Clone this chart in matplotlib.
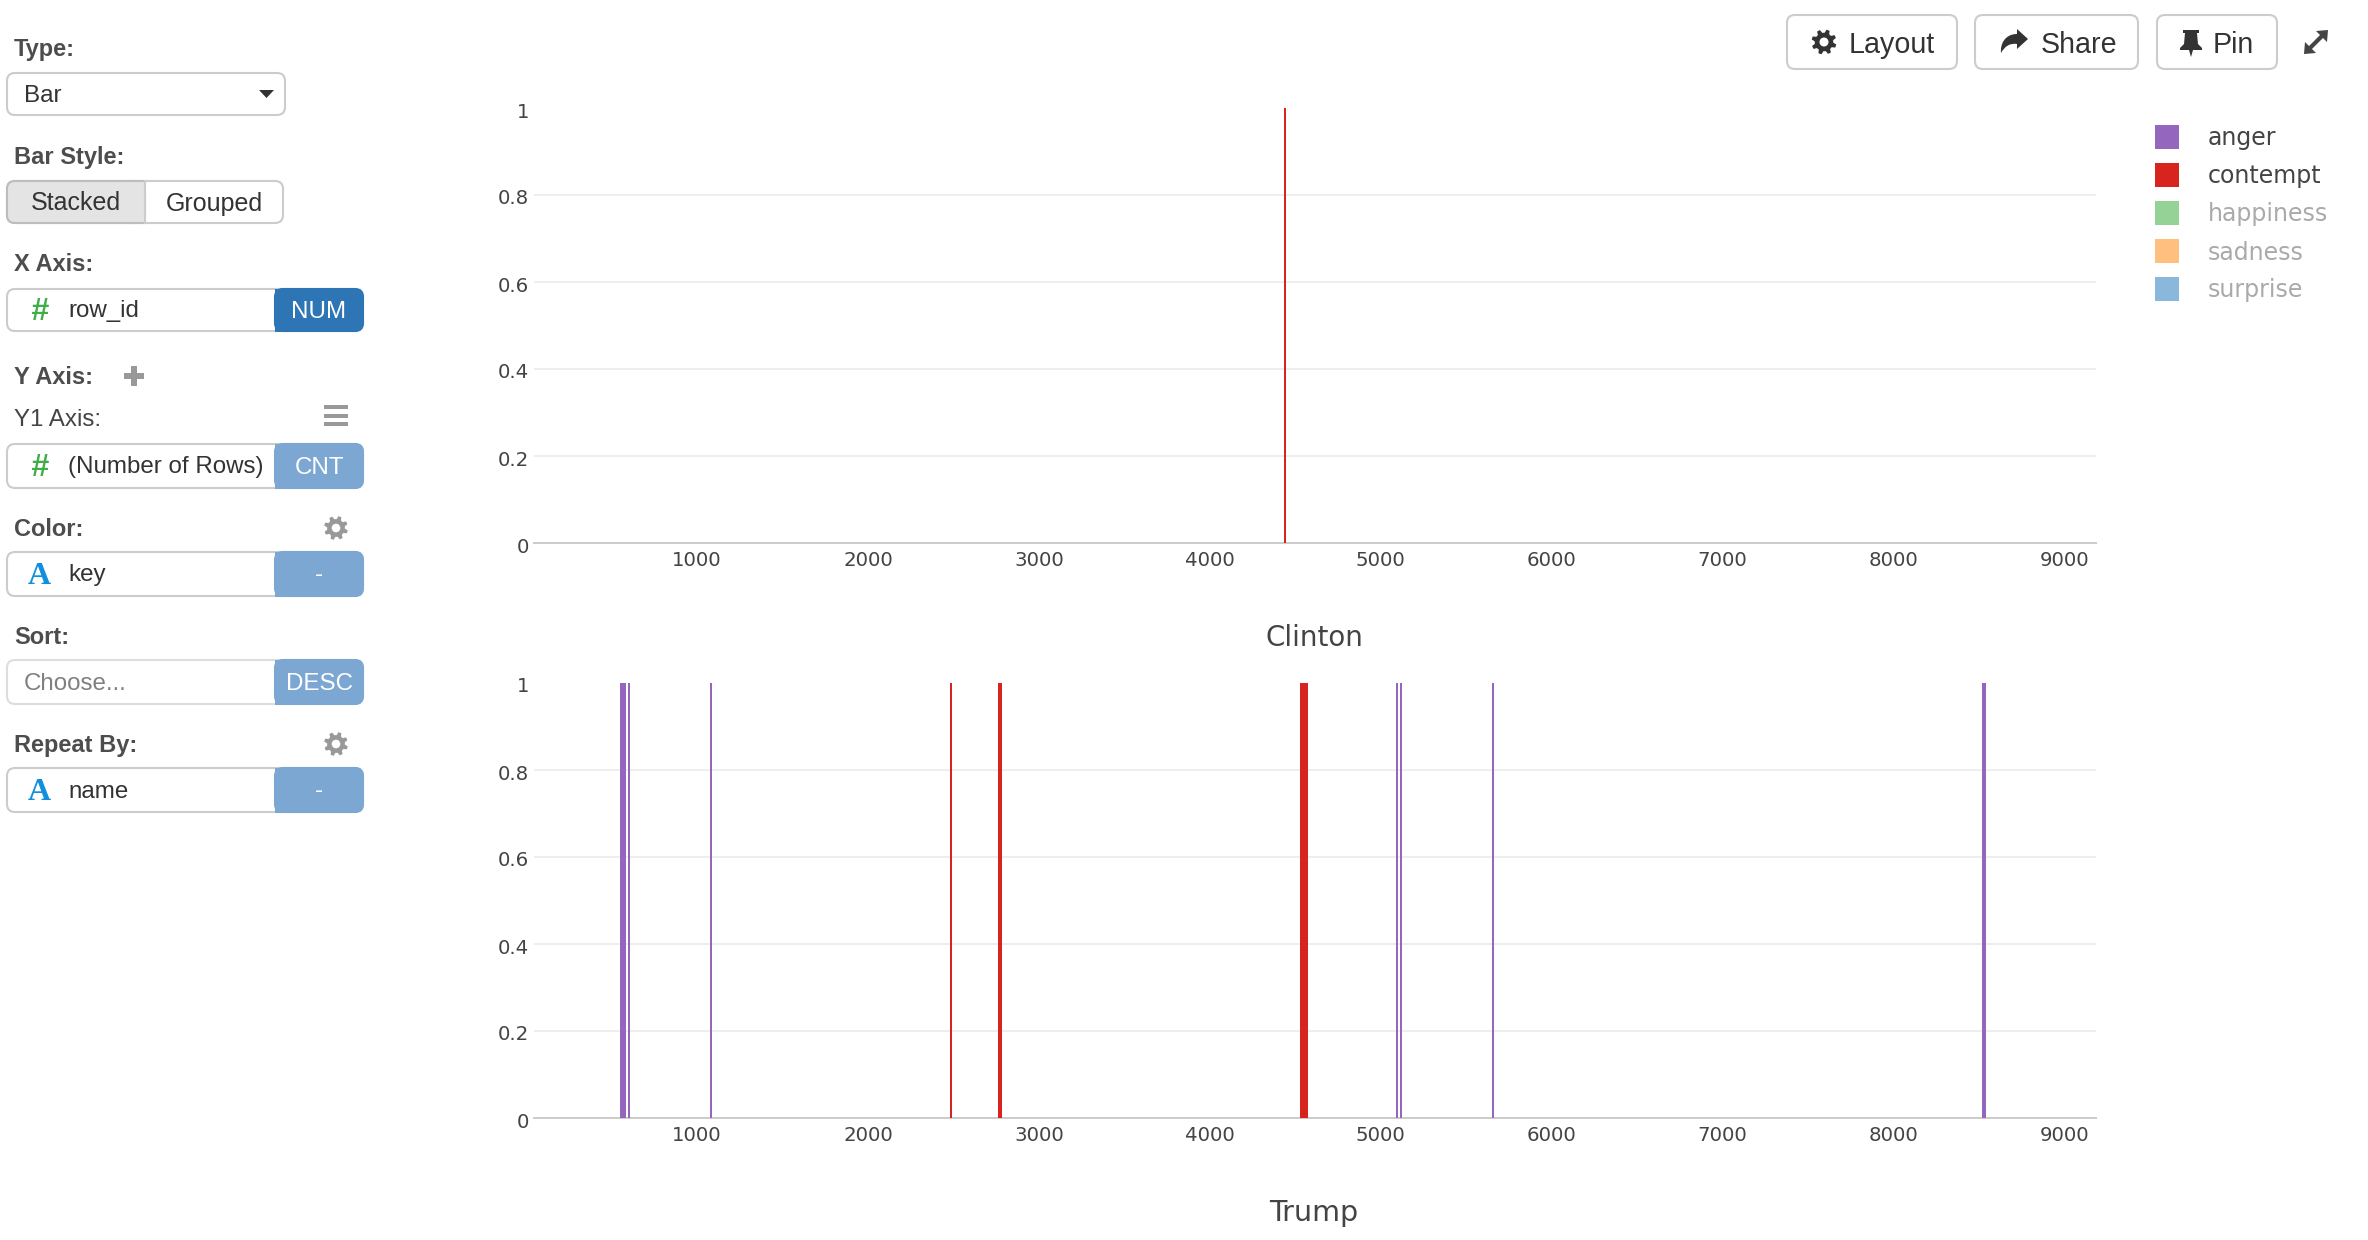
import numpy as np
import matplotlib
matplotlib.use("Agg")
import matplotlib.pyplot as plt
from matplotlib.patches import FancyBboxPatch, Rectangle, Polygon, Circle, PathPatch
from matplotlib.path import Path
from matplotlib.transforms import ScaledTranslation

# row ids of the single-row bars
clinton_contempt = [4441]
trump_anger = [555, 567, 579, 602, 1082, 5096, 5120, 5658, 8525, 8537]
trump_contempt = [2486, 2767, 2779, 4535, 4547, 4558, 4570]

legend_names = ["anger", "contempt", "happiness", "sadness", "surprise"]
legend_colors = ["#9566be", "#d8241f", "#94d295", "#ffbf7f", "#8ab7dc"]
legend_text = ["#444444", "#444444", "#aaaaaa", "#aaaaaa", "#aaaaaa"]

x_ticks = [1000, 2000, 3000, 4000, 5000, 6000, 7000, 8000, 9000]
y_ticks = [0, 0.2, 0.4, 0.6, 0.8, 1]
y_labels = ["0", "0.2", "0.4", "0.6", "0.8", "1"]

W, H = 2368, 1240
ANGER, CONTEMPT = legend_colors[0], legend_colors[1]
TICK = "#444444"
SANS = "Liberation Sans"

fig = plt.figure(figsize=(W / 100, H / 100), dpi=100, facecolor="white")


def make_axes(top, bottom, bars):
    left, right = 534, 2096
    ax = fig.add_axes([left / W, 1 - bottom / H, (right - left) / W, (bottom - top) / H])
    for xs, col in bars:
        ax.bar(xs, np.ones(len(xs)), width=11.7, color=col, linewidth=0, zorder=3)
    ax.set_xlim(46, 9186)
    ax.set_ylim(0, 1)
    ax.set_xticks(x_ticks)
    ax.set_yticks(y_ticks)
    ax.set_yticklabels(y_labels)
    ax.tick_params(length=0, labelsize=14.2, labelcolor=TICK, pad=3.5)
    ax.tick_params(axis="x", pad=6)
    ax.grid(axis="y", color="#eeeeee", linewidth=1.44, zorder=0)
    ax.set_axisbelow(True)
    ax.get_ygridlines()[-1].set_visible(False)
    for s in ["top", "left", "right"]:
        ax.spines[s].set_visible(False)
    ax.spines["bottom"].set_color("#cccccc")
    ax.spines["bottom"].set_linewidth(1.44)
    off = ScaledTranslation(0, -2 / 100, fig.dpi_scale_trans)
    for lab in ax.get_yticklabels():
        lab.set_transform(lab.get_transform() + off)
    return ax


make_axes(108, 543, [(clinton_contempt, CONTEMPT)])
make_axes(683, 1118, [(trump_anger, ANGER), (trump_contempt, CONTEMPT)])

# overlay in pixel coordinates for the app chrome
ui = fig.add_axes([0, 0, 1, 1], zorder=5)
ui.set_xlim(0, W)
ui.set_ylim(H, 0)
ui.axis("off")
ui.patch.set_alpha(0)


def rbox(x0, y0, x1, y1, face="white", edge="#cccccc", lw=1.5, r=8):
    ui.add_patch(FancyBboxPatch((x0, y0), x1 - x0, y1 - y0,
                                boxstyle="round,pad=0,rounding_size=%d" % r,
                                facecolor=face, edgecolor=edge, linewidth=lw))


def label(x, y, s, size=17.4, color="#333333", weight="normal", ha="left", family=SANS, style="normal"):
    ui.text(x, y, s, fontsize=size, color=color, fontweight=weight, ha=ha,
            va="center_baseline", family=family, fontstyle=style)


def gear(cx, cy, r, color):
    ang = np.linspace(0, 2 * np.pi, 48, endpoint=False)
    rad = np.where((np.arange(48) % 6) < 3, r, r * 0.74)
    pts = np.c_[cx + rad * np.cos(ang + 0.2), cy + rad * np.sin(ang + 0.2)]
    ui.add_patch(Polygon(pts, closed=True, facecolor=color, edgecolor="none"))
    ui.add_patch(Circle((cx, cy), r * 0.36, facecolor="white", edgecolor="none"))


def field(y0, y1, icon, icon_col, name, tag, tag_col, edge="#cccccc", name_col="#333333", name_x=68):
    rbox(7, y0, 363, y1, edge=edge)
    rbox(275, y0, 363, y1, face=tag_col, edge=tag_col)
    ui.add_patch(Rectangle((274.5, y0 - 0.5), 12, y1 - y0 + 1, facecolor=tag_col, edgecolor="none", zorder=3))
    ym = (y0 + y1) / 2
    if icon == "#":
        label(40, ym - 1, "#", size=23, color=icon_col, weight="bold", ha="center", style="italic")
    elif icon == "A":
        label(39, ym - 1, "A", size=23, color=icon_col, weight="bold", ha="center", family="Liberation Serif")
    label(name_x, ym - 1, name, color=name_col)
    ui.text(319, ym - 1, tag, fontsize=17.4, color="white", ha="center", va="center_baseline", family=SANS, zorder=4)


HEAD = "#4d4d4d"
for y, s in [(47, "Type:"), (155, "Bar Style:"), (262, "X Axis:"), (375, "Y Axis:"),
             (527, "Color:"), (635, "Sort:"), (743, "Repeat By:")]:
    label(14, y, s, size=17, color=HEAD, weight="bold")

# type select
rbox(7, 73, 285, 115)
label(24, 93, "Bar")
ui.add_patch(Polygon([[259, 90], [274, 90], [266.5, 98]], closed=True, facecolor="#333333", edgecolor="none"))

# bar style toggle
rbox(7, 181, 283, 223)
rbox(7, 181, 145, 223, face="#e4e4e4", edge="#bdbdbd")
ui.add_patch(Rectangle((132, 180.5), 13, 43, facecolor="#e4e4e4", edgecolor="none", zorder=3))
ui.plot([132, 145], [181, 181], color="#bdbdbd", lw=1.5, zorder=3)
ui.plot([132, 145], [223, 223], color="#bdbdbd", lw=1.5, zorder=3)
ui.plot([145, 145], [181, 223], color="#cccccc", lw=1.5, zorder=3)
label(76, 201, "Stacked", ha="center", size=18)
label(214, 201, "Grouped", ha="center", size=18)

field(289, 331, "#", "#3fae49", "row_id", "NUM", "#2e75b6")

# y axis row
ui.add_patch(Rectangle((124, 373), 20, 6, facecolor="#999999", edgecolor="none"))
ui.add_patch(Rectangle((131, 366), 6, 20, facecolor="#999999", edgecolor="none"))
label(14, 417, "Y1 Axis:", color="#444444")
for y in [407, 416, 424]:
    ui.add_patch(Rectangle((324, y - 2), 24, 4, facecolor="#999999", edgecolor="none"))

LIGHT = "#7ba7d2"
field(444, 488, "#", "#3fae49", "(Number of Rows)", "CNT", LIGHT)
gear(336, 528, 12, "#999999")
field(552, 596, "A", "#0f8fdc", "key", "-", LIGHT)
field(660, 704, "", "", "Choose...", "DESC", LIGHT, edge="#dddddd", name_col="#808080", name_x=24)
gear(336, 744, 12, "#999999")
field(768, 812, "A", "#0f8fdc", "name", "-", LIGHT)

# toolbar
rbox(1787, 15, 1957, 69)
rbox(1975, 15, 2138, 69)
rbox(2157, 15, 2277, 69)
gear(1824, 42, 12.5, "#333333")
label(1849, 42, "Layout", size=20.6)
label(2041, 42, "Share", size=20.6)
label(2213, 42, "Pin", size=20.6)
share = Path([(2028, 39), (2017, 29), (2017, 34), (2005, 34), (2000, 44), (2001, 53),
              (2005, 46), (2010, 43), (2017, 44), (2017, 49), (2028, 39)],
             [Path.MOVETO, Path.LINETO, Path.LINETO, Path.CURVE4, Path.CURVE4, Path.CURVE4,
              Path.CURVE4, Path.CURVE4, Path.CURVE4, Path.LINETO, Path.CLOSEPOLY])
ui.add_patch(PathPatch(share, facecolor="#333333", edgecolor="none"))
ui.add_patch(Polygon([[2183, 30], [2199, 30], [2199, 33], [2197, 33], [2198, 44], [2202, 48], [2202, 50],
                      [2193, 50], [2191, 57], [2189, 50], [2180, 50], [2180, 48], [2184, 44], [2185, 33], [2183, 33]],
                     closed=True, facecolor="#333333", edgecolor="none"))
# expand icon
ui.add_patch(Polygon([[2328, 30], [2316, 31], [2320, 35], [2323, 38], [2327, 42]], closed=True,
                     facecolor="#444444", edgecolor="none"))
ui.add_patch(Polygon([[2304, 54], [2305, 42], [2309, 46], [2312, 49], [2316, 53]], closed=True,
                     facecolor="#444444", edgecolor="none"))
ui.plot([2310, 2322], [48, 36], color="#444444", lw=3, solid_capstyle="butt")

# legend
for i, name in enumerate(legend_names):
    y = 125 + 38 * i
    ui.add_patch(Rectangle((2155, y), 24, 24, facecolor=legend_colors[i], edgecolor="none"))
    ui.text(2208, y + 11, name, fontsize=17, color=legend_text[i], va="center_baseline", family="DejaVu Sans")

# facet titles
ui.text(1314, 638, "Clinton", fontsize=20, color=TICK, ha="center", va="center", family="DejaVu Sans")
ui.text(1314, 1213, "Trump", fontsize=20.6, color=TICK, ha="center", va="center", family="DejaVu Sans")

fig.savefig("out.png", dpi=100, facecolor="white")
